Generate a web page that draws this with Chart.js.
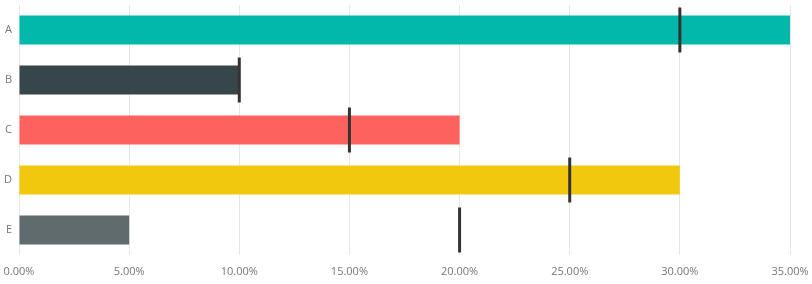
<!DOCTYPE html>
<html>
<head>
<meta charset="utf-8">
<script src="https://cdn.jsdelivr.net/npm/chart.js@4/dist/chart.umd.min.js"></script>
<style>
  html, body { margin: 0; padding: 0; background: #fff; }
  #wrap { width: 812px; height: 284px; }
</style>
</head>
<body>
<div id="wrap"><canvas id="chart"></canvas></div>
<script>
// data (percent)
var categories = ['A', 'B', 'C', 'D', 'E'];
var actualValues = [35, 10, 20, 30, 5];
var targetValues = [30, 10, 15, 25, 20];
var barColors = ['#01B8AA', '#374649', '#FD625E', '#F2C80F', '#5F6B6D'];

Chart.defaults.font.family = '"Open Sans", "Noto Sans", sans-serif';
Chart.defaults.font.size = 11;
Chart.defaults.color = '#777';

var ctx = document.getElementById('chart').getContext('2d');
new Chart(ctx, {
	type: 'bar',
	data: {
		labels: categories,
		datasets: [{
			type: 'line',
			label: 'Target',
			data: targetValues,
			indexAxis: 'y',
			showLine: false,
			pointStyle: 'line',
			rotation: 90,
			pointRadius: 22.5,
			pointBorderWidth: 3,
			borderColor: '#333',
			backgroundColor: '#333',
			clip: false,
			order: 0
		}, {
			label: 'Actual',
			data: actualValues,
			backgroundColor: barColors,
			borderWidth: 0,
			categoryPercentage: 1,
			barPercentage: 0.58,
			order: 1
		}]
	},
	options: {
		indexAxis: 'y',
		responsive: true,
		maintainAspectRatio: false,
		animation: false,
		layout: { autoPadding: false, padding: 0 },
		plugins: {
			legend: { display: false },
			tooltip: { enabled: false }
		},
		scales: {
			x: {
				min: 0,
				max: 35,
				grid: { color: '#e6e6e6', drawTicks: false },
				border: { display: false },
				ticks: {
					stepSize: 5,
					padding: 10,
					callback: function(value) { return value.toFixed(2) + '%'; }
				},
				afterFit: function(scale) {
					// room for the first/last tick labels, and the label row
					scale.paddingLeft = 19;
					scale.paddingRight = 22;
					scale.height = 29;
				}
			},
			y: {
				grid: { display: false, drawTicks: false },
				border: { display: false },
				ticks: { padding: 7 },
				afterFit: function(scale) {
					scale.width = 19;
					scale.paddingTop = 5;
					scale.paddingBottom = 0;
				}
			}
		}
	}
});
</script>
</body>
</html>
